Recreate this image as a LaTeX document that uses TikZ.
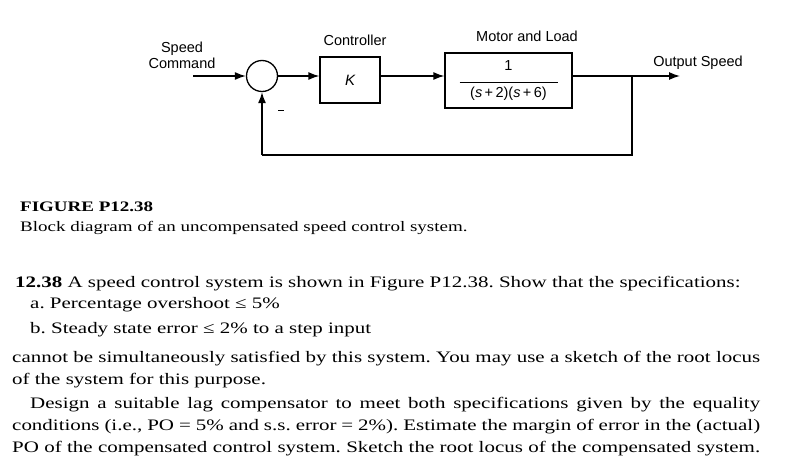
\documentclass[tikz,border=0pt]{standalone}
\usepackage{fontspec}
\setmainfont[FakeStretch=1.31]{Liberation Serif}
\newfontfamily\diag{Liberation Sans}
\usetikzlibrary{arrows.meta}
\frenchspacing
\begin{document}
\begin{tikzpicture}[x=1pt,y=-1pt,
  blk/.style={draw,line width=1.3pt,inner sep=0pt},
  sig/.style={line width=1.3pt,-{Latex[length=11pt,width=8pt]}},
  wire/.style={line width=1.3pt},
  lab/.style={font=\diag\fontsize{14.5}{16}\selectfont,align=center},
  txt/.style={anchor=west,inner sep=0pt,font=\fontsize{16}{18}\selectfont},
  jus/.style={anchor=west,inner sep=0pt,font=\fontsize{16}{18}\selectfont}]
\useasboundingbox (0,0) rectangle (804,463);
\node[draw,circle,line width=1.3pt,minimum size=31pt,inner sep=0pt] (sum) at (262,76) {};
\node[blk,minimum width=60pt,minimum height=46pt] (ctl) at (350,80) {\diag\itshape\fontsize{15}{16}\selectfont K};
\node[blk,minimum width=127pt,minimum height=55pt] (mot) at (508.5,80.5) {\diag\fontsize{14.5}{16}\selectfont\begin{tabular}{@{}c@{}}1\\[-3pt]\rule{98pt}{1.3pt}\\[-2pt]({\itshape s}\,+\,2)({\itshape s}\,+\,6)\end{tabular}};
\coordinate (in) at (193,76);
\coordinate (br) at (632,76);
\coordinate (out) at (680,76);
\coordinate (bl) at (632,155);
\coordinate (bs) at (262,155);
\draw[sig] (in) -- (sum.west);
\draw[sig] (sum.east) -- (ctl.west|-sum.east);
\draw[sig] (ctl.east|-sum.east) -- (mot.west|-sum.east);
\draw[sig] (mot.east|-sum.east) -- (out);
\draw[wire] (br) -- (bl) -- (bs);
\draw[sig] (bs) -- (sum.south);
\node[lab] (t1) at (182,55) {Speed\\Command};
\node[lab] (t2) at (355,40) {Controller};
\node[lab] (t3) at (527,36) {Motor and Load};
\node[lab] (t4) at (698,63) {Output Speed};
\node[lab] (m) at (281,110) {\rule{6pt}{1pt}};
\node[anchor=west,inner sep=0pt,font=\bfseries\fontsize{14.5}{16}\selectfont] (f1) at (20,207) {FIGURE P12.38};
\node[txt,font=\fontsize{14.5}{16}\selectfont] (f2) at (20,228) {Block diagram of an uncompensated speed control system.};
\node[txt] (l1) at (15,284) {\textbf{12.38} A speed control system is shown in Figure P12.38. Show that the specifications:};
\node[txt] (l2) at (30,305) {a.\ Percentage overshoot ≤ 5\%};
\node[txt] (l3) at (30,330) {b.\ Steady state error ≤ 2\% to a step input};
\node[jus] (l4) at (12,359) {\hbox to 748pt{cannot be simultaneously satisfied by this system. You may use a sketch of the root locus}};
\node[txt] (l5) at (12,381) {of the system for this purpose.};
\node[jus] (l6) at (30,405) {\hbox to 730pt{Design a suitable lag compensator to meet both specifications given by the equality}};
\node[jus] (l7) at (12,427) {\hbox to 748pt{conditions (i.e., PO = 5\% and s.s.\ error = 2\%). Estimate the margin of error in the (actual)}};
\node[jus] (l8) at (12,449) {\hbox to 748pt{PO of the compensated control system. Sketch the root locus of the compensated system.}};
\end{tikzpicture}
\end{document}
